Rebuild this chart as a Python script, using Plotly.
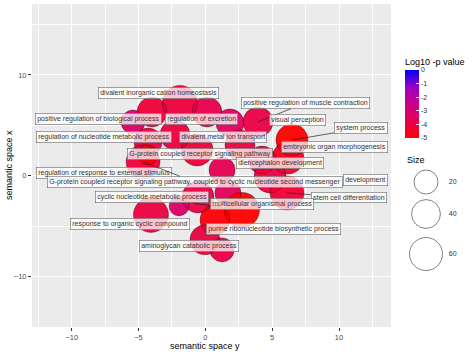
import plotly.graph_objects as go
import math

# ---------------- data ----------------
bubble_x = [-3.99, -5.41, -1.90, 0.12, -4.29, -2.27, -0.62, -4.66, -4.29,
            1.84, 3.94, 2.59, 4.24, 1.25,
            6.48, 6.18, 4.84, 6.11,
            -4.07, -0.55, -1.97, 1.69, 2.74, 0.72, -0.03, 1.25]
bubble_y = [6.33, 5.34, 7.22, 6.33, 3.36, 4.05, 2.56, 1.38, 2.07,
            5.24, 5.34, 3.06, 1.57, 0.58,
            3.55, 1.77, -0.11, -1.70,
            -3.88, -2.10, -2.99, -1.70, -3.39, -4.38, -6.36, -7.35]
bubble_size = [45, 20, 71, 45, 36, 45, 55, 65, 6,
               36, 45, 45, 36, 28,
               55, 55, 55, 65,
               71, 55, 6, 28, 71, 45, 45, 20]
bubble_logp = [-4.1, -3.2, -4.0, -3.8, -4.1, -4.0, -4.1, -4.0, -5.0,
               -3.4, -3.9, -4.0, -4.1, -3.7,
               -5.0, -4.5, -4.0, -4.2,
               -4.0, -3.9, -3.2, -3.6, -5.0, -4.9, -4.0, -3.9]

label_text = [
    "divalent inorganic cation homeostasis",
    "positive regulation of biological process",
    "regulation of excretion",
    "positive regulation of muscle contraction",
    "visual perception",
    "system process",
    "regulation of nucleotide metabolic process",
    "divalent metal ion transport",
    "embryonic organ morphogenesis",
    "G-protein coupled receptor signaling pathway",
    "diencephalon development",
    "regulation of response to external stimulus",
    "G-protein coupled receptor signaling pathway, coupled to cyclic nucleotide second messenger",
    "development",
    "stem cell differentiation",
    "cyclic nucleotide metabolic process",
    "multicellular organismal process",
    "response to organic cyclic compound",
    "purine ribonucleotide biosynthetic process",
    "aminoglycan catabolic process",
]
label_x = [-3.51, -7.96, -0.29, 7.46, 6.89, 11.61, -7.62, 1.32, 9.63, -0.40,
           5.55, -7.62, -0.81, 11.95, 10.71, -3.99, 4.24, -5.64, 5.10, -1.22]
label_y = [8.26, 5.64, 5.64, 7.22, 5.54, 4.70, 3.80, 3.85, 2.86, 2.17,
           1.22, 0.23, -0.61, -0.46, -2.15, -2.15, -2.79, -4.82, -5.27, -6.96]
# index of bubble the label is connected to by a segment (None = no segment)
label_link = [None, None, None, 10, None, 14, None, None, None, None,
              None, None, 7, None, 17, 22, None, None, None, None]

legend_sizes = [20, 40, 60]
cbar_ticks = [0, -1, -2, -3, -4, -5]

# ---------------- scales ----------------
def diam(s):
    return math.sqrt(320 + 12.8 * s)

colorscale = [[0.0, "#FF0000"], [0.25, "#E8004F"], [0.5, "#CA0088"],
              [0.75, "#9A00C3"], [1.0, "#0000FF"]]

FONT = "Liberation Sans, Arial, sans-serif"
W, H = 474, 355
ML, MR, MT, MB = 32, 0, 4, 28
plot_w = W - ML - MR
plot_h = H - MT - MB
panel_right = 391
dom_x = (panel_right - ML) / plot_w

fig = go.Figure()

sizes_px = [diam(s) for s in bubble_size]

fig.add_trace(go.Scatter(
    x=bubble_x, y=bubble_y, mode="markers",
    marker=dict(size=sizes_px, color=bubble_logp, cmin=-5, cmax=0,
                colorscale=colorscale, opacity=0.95,
                line=dict(width=0),
                colorbar=dict(
                    title=dict(text="Log10 -p value", side="top",
                               font=dict(size=9, family=FONT, color="#000")),
                    x=(405 - ML) / plot_w, xanchor="left", xpad=0,
                    y=(H - MB - 55) / plot_h, yanchor="top", ypad=0,
                    len=(138 - 55) / plot_h, lenmode="fraction",
                    thickness=14, outlinewidth=0,
                    tickvals=cbar_ticks, ticktext=[str(t) for t in cbar_ticks],
                    ticks="inside", ticklen=3, tickcolor="white",
                    tickfont=dict(size=7, family=FONT, color="#333"))),
    hoverinfo="skip", showlegend=False))

fig.add_trace(go.Scatter(
    x=bubble_x, y=bubble_y, mode="markers",
    marker=dict(size=sizes_px, color="rgba(0,0,0,0)",
                line=dict(width=0.7, color="rgba(0,0,0,0.65)")),
    hoverinfo="skip", showlegend=False))

# size legend on a hidden helper axis (y values = pixel rows)
leg_rows = [182, 214, 254]
fig.add_trace(go.Scatter(
    x=[(426 - 405) / (W - 405)] * 3, y=leg_rows, mode="markers",
    marker=dict(size=[diam(s) for s in legend_sizes], color="white",
                line=dict(width=0.8, color="#222")),
    xaxis="x2", yaxis="y2", hoverinfo="skip", showlegend=False))
fig.add_trace(go.Scatter(
    x=[(452.7 - 405) / (W - 405)] * 3, y=leg_rows, mode="text",
    text=[str(s) for s in legend_sizes],
    textfont=dict(size=7, family=FONT, color="#333"),
    xaxis="x2", yaxis="y2", hoverinfo="skip", showlegend=False))

annotations = []
for t, lx, ly, link in zip(label_text, label_x, label_y, label_link):
    common = dict(text=t, font=dict(size=7, family=FONT, color="#333"),
                  bgcolor="rgba(255,255,255,0.75)", bordercolor="#666",
                  borderwidth=0.6, borderpad=1.6)
    if link is None:
        annotations.append(dict(x=lx, y=ly, xref="x", yref="y",
                                showarrow=False, **common))
    else:
        annotations.append(dict(x=bubble_x[link], y=bubble_y[link],
                                xref="x", yref="y", ax=lx, ay=ly,
                                axref="x", ayref="y", showarrow=True,
                                arrowhead=0, arrowwidth=0.7,
                                arrowcolor="#222", standoff=0, **common))

annotations.append(dict(x=0, y=160, xref="x2", yref="y2", xanchor="left",
                        text="Size", showarrow=False,
                        font=dict(size=9, family=FONT, color="#000")))
annotations.append(dict(x=(8.5 - ML) / plot_w, y=0.5, xref="paper", yref="paper",
                        text="semantic space x", textangle=-90,
                        showarrow=False, xanchor="center", yanchor="middle",
                        font=dict(size=9, family=FONT, color="#000")))
annotations.append(dict(x=0.0, y=0.0, xref="x", yref="paper",
                        yshift=-12, text="semantic space y",
                        showarrow=False, xanchor="center", yanchor="top",
                        font=dict(size=9, family=FONT, color="#000")))

shapes = [dict(type="rect", xref="x domain", yref="y domain",
               x0=0, x1=1, y0=0, y1=1, fillcolor="#EBEBEB",
               line=dict(width=0), layer="below")]

fig.update_layout(
    width=W, height=H,
    margin=dict(l=ML, r=MR, t=MT, b=MB, autoexpand=False),
    paper_bgcolor="white", plot_bgcolor="rgba(0,0,0,0)",
    font=dict(family=FONT),
    xaxis=dict(domain=[0, dom_x], range=[-12.97, 13.89], dtick=5, tick0=0,
               showgrid=True, gridcolor="white", gridwidth=1.1, zeroline=False,
               ticks="outside", ticklen=3, tickcolor="#333", tickwidth=1,
               tickfont=dict(size=7.5, color="#4D4D4D", family=FONT),
               minor=dict(dtick=2.5, showgrid=True, gridcolor="white",
                          gridwidth=0.5, ticks=""),
               automargin=False, showline=False),
    yaxis=dict(domain=[0, 1], range=[-15.0, 17.04], dtick=10, tick0=0,
               showgrid=True, gridcolor="white", gridwidth=1.1, zeroline=False,
               ticks="outside", ticklen=3, tickcolor="#333", tickwidth=1,
               tickfont=dict(size=7.5, color="#4D4D4D", family=FONT),
               minor=dict(dtick=5, showgrid=True, gridcolor="white",
                          gridwidth=0.5, ticks=""),
               automargin=False, showline=False),
    xaxis2=dict(domain=[(405 - ML) / plot_w, 1], range=[0, 1], visible=False,
                anchor="y2", fixedrange=True),
    yaxis2=dict(domain=[0, 1], range=[H - MB, MT], visible=False,
                anchor="x2", fixedrange=True),
    annotations=annotations,
    shapes=shapes,
)

fig.write_html("out.html",
               config={"displayModeBar": False},
               post_script="document.body.style.margin='0';")
